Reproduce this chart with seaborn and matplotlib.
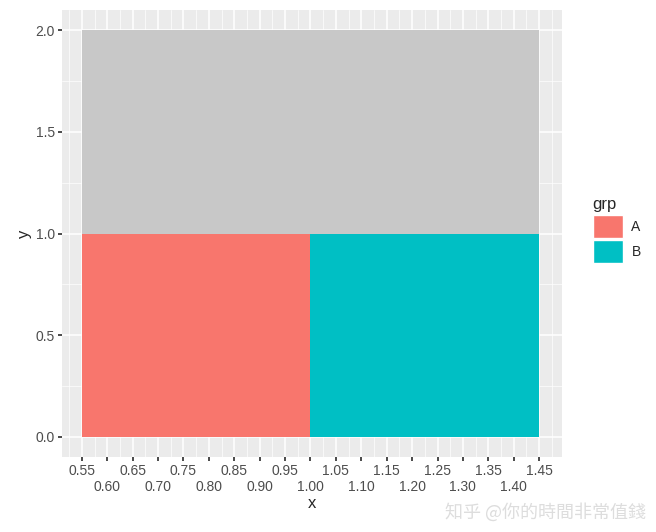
import matplotlib
matplotlib.use("Agg")
import matplotlib.pyplot as plt
import seaborn as sns
import numpy as np
from matplotlib.patches import Patch

groups = ["A", "B"]
xmin = [0.55, 1.00]
xmax = [1.00, 1.45]
ymax = [1.0, 1.0]
bg_x = [0.55, 1.45]
bg_y = [0.0, 2.0]
colors = {"A": "#F8766D", "B": "#00BFC4"}

sns.set_theme(style="darkgrid", rc={"axes.facecolor": "#EBEBEB", "grid.color": "white"})
plt.rcParams['font.family'] = ['Liberation Sans', 'Noto Sans CJK SC', 'DejaVu Sans']

fig = plt.figure(figsize=(6.56, 5.32), dpi=100)
ax = fig.add_axes([62/656, 75/532, 500/656, 447/532])

ax.bar(bg_x[0], bg_y[1]-bg_y[0], width=bg_x[1]-bg_x[0], bottom=bg_y[0], align="edge",
       color="#C8C8C8", linewidth=0, zorder=2)
for g, a, b, h in zip(groups, xmin, xmax, ymax):
    ax.bar(a, h, width=b-a, align="edge", color=colors[g], linewidth=0, zorder=3)

ax.set_xlim(0.511, 1.495)
ax.set_ylim(-0.1, 2.1)
xt = np.round(np.arange(0.55, 1.451, 0.05), 2)
ax.set_xticks(xt)
ax.set_xticklabels([f"{v:.2f}" if i % 2 == 0 else f"\n{v:.2f}" for i, v in enumerate(xt)],
                   color="#4D4D4D", fontsize=10)
ax.set_xticks(np.arange(0.525, 1.5, 0.05), minor=True)
ax.set_yticks([0, 0.5, 1.0, 1.5, 2.0])
ax.set_yticklabels(["0.0", "0.5", "1.0", "1.5", "2.0"], color="#4D4D4D", fontsize=10)
ax.set_yticks([0.25, 0.75, 1.25, 1.75], minor=True)
ax.grid(which="major", color="white", linewidth=1.1)
ax.grid(which="minor", color="white", linewidth=0.5)
ax.tick_params(which="major", length=3, color="#333333", pad=2, bottom=True, left=True)
ax.tick_params(which="minor", length=0)
for s in ax.spines.values():
    s.set_visible(False)
ax.set_xlabel("x", fontsize=12, labelpad=1)
ax.set_ylabel("y", fontsize=12, labelpad=3)

handles = [Patch(facecolor=colors[g], edgecolor="white", label=g) for g in groups]
leg = fig.legend(handles=handles, title="grp", loc="upper left",
                 bbox_to_anchor=(580/656, 1-185/532), frameon=False, fontsize=10,
                 title_fontsize=12, handlelength=2.2, handleheight=2.2, labelspacing=0.15,
                 handletextpad=0.6)
leg._legend_box.align = "left"

fig.text(0.985, 0.02, "知乎 @你的時間非常值錢", ha="right", va="bottom", fontsize=13,
         color="#DDDDDD", family=["Noto Sans CJK SC", "DejaVu Sans"])

fig.savefig("out.png", dpi=100, facecolor="white")
